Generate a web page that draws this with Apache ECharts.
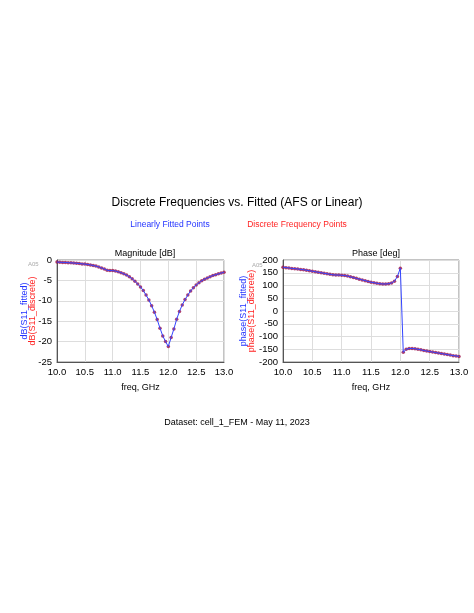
<!DOCTYPE html>
<html><head><meta charset="utf-8">
<script src="https://cdn.jsdelivr.net/npm/echarts@6/dist/echarts.min.js"></script>
<style>html,body{margin:0;padding:0;background:#fff}#c{width:474px;height:613px}</style>
</head><body><div id="c"></div>
<script>
// frequency grid, GHz (10.0 .. 13.0 step 0.05)
var freqs = [];
for (var i = 0; i <= 60; i++) freqs.push(+(10 + i * 0.05).toFixed(2));

var magDb = [-0.5,-0.55,-0.6,-0.6,-0.65,-0.7,-0.75,-0.8,-0.85,-0.95,
  -1.0,-1.1,-1.2,-1.35,-1.5,-1.7,-1.95,-2.2,-2.5,-2.6,
  -2.6,-2.7,-2.9,-3.1,-3.4,-3.7,-4.1,-4.6,-5.2,-5.9,
  -6.6,-7.5,-8.6,-9.8,-11.2,-12.8,-14.6,-16.7,-18.6,-20.0,
  -21.2,-19.0,-16.9,-14.5,-12.6,-11.0,-9.7,-8.6,-7.6,-6.8,
  -6.1,-5.6,-5.1,-4.7,-4.4,-4.1,-3.8,-3.6,-3.4,-3.2,-3.0];

var phaseDeg = [172,170,169,167,166,165,163,162,160,158,
  156,154,152,150,148,146,144,142,141,141,
  140,139,137,134,131,128,125,122,119,116,
  113,111,109,107,106,106,107,110,117,135,
  168,-162,-150,-147,-147,-148,-150,-152,-155,-157,
  -159,-161,-163,-165,-167,-169,-171,-173,-175,-176,-178];

var font = 'Liberation Sans, Arial, sans-serif';
function pairs(v) { return freqs.map(function (f, i) { return [f, v[i]]; }); }

function xAx(idx) {
  return {
    type: 'value', gridIndex: idx, min: 10, max: 13, interval: 0.5,
    name: 'freq, GHz', nameLocation: 'middle', nameGap: 21,
    nameTextStyle: {fontFamily: font, fontSize: 9, color: '#000'},
    axisLine: {show: true, onZero: false, lineStyle: {color: '#555'}}, axisTick: {show: false},
    axisLabel: {fontFamily: font, fontSize: 9.5, color: '#000', margin: 5, formatter: function (v) { return v.toFixed(1); }},
    splitLine: {show: true, lineStyle: {color: '#ddd'}}
  };
}
function yAx(idx, min, max, step) {
  return {
    type: 'value', gridIndex: idx, min: min, max: max, interval: step,
    axisLine: {show: true, onZero: false, lineStyle: {color: '#555'}}, axisTick: {show: false},
    axisLabel: {fontFamily: font, fontSize: 9.5, color: '#000', margin: 5},
    splitLine: {show: true, lineStyle: {color: '#ddd'}}
  };
}
function boxGrid(l, r) {
  return {left: l, right: r, top: 260, height: 102, show: true, borderColor: '#888', borderWidth: 1, backgroundColor: '#fff'};
}
function ylabel(x, a, b) {
  return [
    {type: 'text', x: x, y: 311, rotation: Math.PI / 2, style: {text: a, fill: '#2233ff', font: '9px ' + font, textAlign: 'center', textVerticalAlign: 'middle'}},
    {type: 'text', x: x + 8, y: 311, rotation: Math.PI / 2, style: {text: b, fill: '#ff2222', font: '9px ' + font, textAlign: 'center', textVerticalAlign: 'middle'}}
  ];
}

var chart = echarts.init(document.getElementById('c'));
chart.setOption({
  animation: false,
  title: [
    {text: 'Discrete Frequencies vs. Fitted (AFS or Linear)', left: 'center', top: 192, textStyle: {fontFamily: font, fontSize: 12, fontWeight: 'normal', color: '#000'}},
    {text: 'Magnitude [dB]', left: 140, textAlign: 'center', top: 244, textStyle: {fontFamily: font, fontSize: 9, fontWeight: 'normal', color: '#000'}},
    {text: 'Phase [deg]', left: 371, textAlign: 'center', top: 244, textStyle: {fontFamily: font, fontSize: 9, fontWeight: 'normal', color: '#000'}},
    {text: 'Dataset: cell_1_FEM - May 11, 2023', left: 'center', top: 413, textStyle: {fontFamily: font, fontSize: 9, fontWeight: 'normal', color: '#000'}}
  ],
  graphic: [].concat(
    ylabel(25, 'dB(S11_fitted)', 'dB(S11_discrete)'),
    ylabel(244, 'phase(S11_fitted)', 'phase(S11_discrete)'),
    [
      {type: 'text', x: 28, y: 261, style: {text: 'A05', fill: '#aaa', font: '6px ' + font}},
      {type: 'text', x: 252, y: 262, style: {text: 'A05', fill: '#aaa', font: '6px ' + font}},
      {type: 'text', x: 170, y: 220, style: {text: 'Linearly Fitted Points', fill: '#2233ff', font: '8.5px ' + font, textAlign: 'center'}},
      {type: 'text', x: 297, y: 220, style: {text: 'Discrete Frequency Points', fill: '#ff2222', font: '8.5px ' + font, textAlign: 'center'}}
    ]),
  grid: [boxGrid(57, 250), boxGrid(283, 15)],
  xAxis: [xAx(0), xAx(1)],
  yAxis: [yAx(0, -25, 0, 5), yAx(1, -200, 200, 50)],
  series: [
    {type: 'line', xAxisIndex: 0, yAxisIndex: 0, data: pairs(magDb), showSymbol: false, lineStyle: {color: '#3344ff', width: 1}},
    {type: 'scatter', xAxisIndex: 0, yAxisIndex: 0, data: pairs(magDb), symbolSize: 3.5, itemStyle: {color: '#9a1048'}},
    {type: 'line', xAxisIndex: 1, yAxisIndex: 1, data: pairs(phaseDeg), showSymbol: false, lineStyle: {color: '#3344ff', width: 1}},
    {type: 'scatter', xAxisIndex: 1, yAxisIndex: 1, data: pairs(phaseDeg), symbolSize: 3.5, itemStyle: {color: '#9a1048'}}
  ]
});
</script></body></html>
